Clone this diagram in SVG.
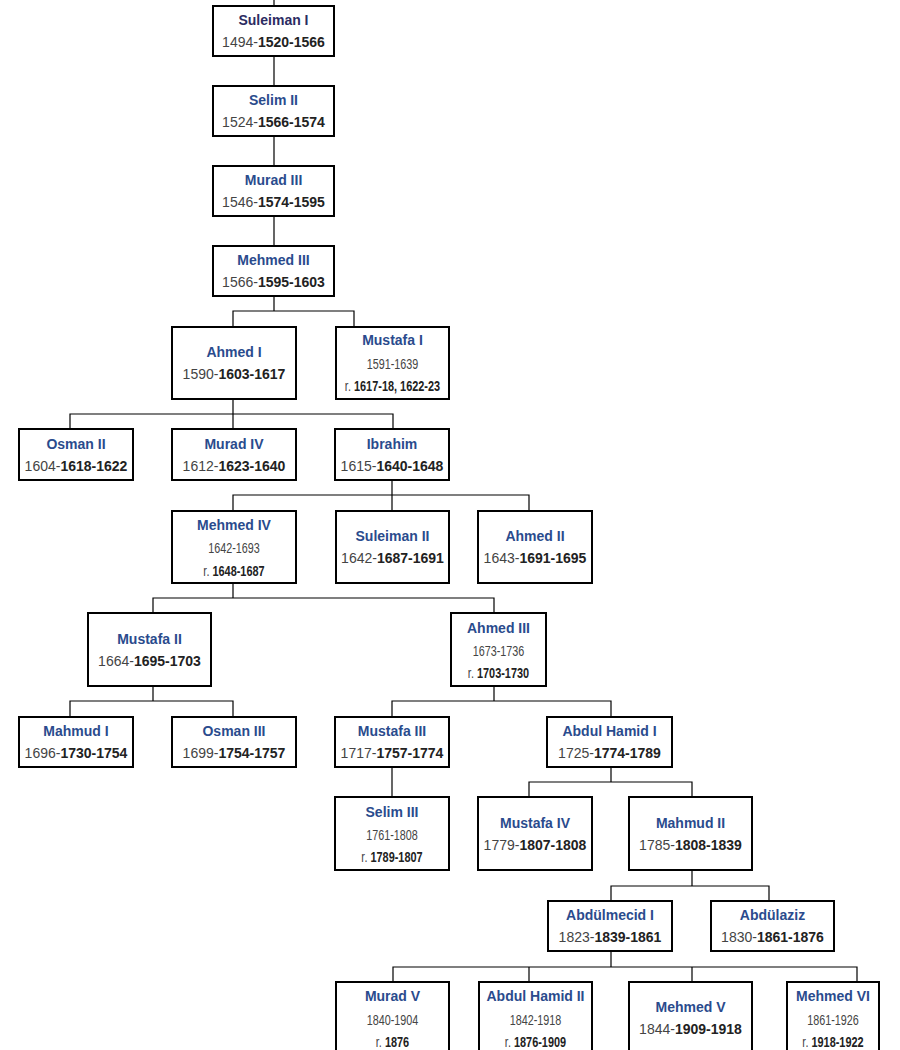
<svg xmlns="http://www.w3.org/2000/svg" width="900" height="1050" viewBox="0 0 900 1050">
<style>
.box{fill:#fff;stroke:#000;stroke-width:2}
.c{fill:none;stroke:#000;stroke-width:1.2}
text{font-family:"Liberation Sans",Arial,sans-serif;text-anchor:middle}
.n{font-size:14px;font-weight:bold;fill:#2a4b8d}
.n0{font-size:14px;font-weight:bold;fill:#2b2b62}
.d{font-size:14px;fill:#444}
.s{font-size:14px;fill:#444}
.b{font-weight:bold;fill:#222}
</style>
<rect width="900" height="1050" fill="#fff"/>
<g id="connectors">
<path class="c" d="M274,0V6 M274,56V86 M274,136V166 M274,216V246"/>
<path class="c" d="M274,296V311 M233,327V311H354V327"/>
<path class="c" d="M233,399V414 M70,429V414H393V429 M233,414V429"/>
<path class="c" d="M392,480V495 M233,511V495H529V511 M392,495V511"/>
<path class="c" d="M233,583V598 M153,613V598H494V613"/>
<path class="c" d="M153,686V701 M70,717V701H233V717"/>
<path class="c" d="M494,686V701 M392,717V701H611V717"/>
<path class="c" d="M392,767V797"/>
<path class="c" d="M611,767V782 M529,797V782H692V797"/>
<path class="c" d="M692,870V886 M611,901V886H769V901"/>
<path class="c" d="M611,951V967 M393,982V967H857V982 M529,967V982 M692,967V982"/>
</g>
<g id="suleiman1"><rect class="box" x="213" y="6" width="121" height="50"/><text class="n0" x="273.5" y="25">Suleiman I</text><text class="d" x="273.5" y="47">1494-<tspan class="b">1520-1566</tspan></text></g>
<g id="selim2"><rect class="box" x="213" y="86" width="121" height="50"/><text class="n" x="273.5" y="105">Selim II</text><text class="d" x="273.5" y="127">1524-<tspan class="b">1566-1574</tspan></text></g>
<g id="murad3"><rect class="box" x="213" y="166" width="121" height="50"/><text class="n" x="273.5" y="185">Murad III</text><text class="d" x="273.5" y="207">1546-<tspan class="b">1574-1595</tspan></text></g>
<g id="mehmed3"><rect class="box" x="213" y="246" width="121" height="50"/><text class="n" x="273.5" y="265">Mehmed III</text><text class="d" x="273.5" y="287">1566-<tspan class="b">1595-1603</tspan></text></g>
<g id="ahmed1"><rect class="box" x="172" y="327" width="124" height="72"/><text class="n" x="234" y="357">Ahmed I</text><text class="d" x="234" y="379">1590-<tspan class="b">1603-1617</tspan></text></g>
<g id="mustafa1"><rect class="box" x="336" y="327" width="113" height="72"/><text class="n" x="392.5" y="345">Mustafa I</text><text class="s" transform="translate(392.5,369) scale(0.77,1)">1591-1639</text><text class="s" transform="translate(392.5,391) scale(0.78,1)">r. <tspan class="b">1617-18, 1622-23</tspan></text></g>
<g id="osman2"><rect class="box" x="19" y="429" width="114" height="51"/><text class="n" x="76" y="449">Osman II</text><text class="d" x="76" y="471">1604-<tspan class="b">1618-1622</tspan></text></g>
<g id="murad4"><rect class="box" x="172" y="429" width="124" height="51"/><text class="n" x="234" y="449">Murad IV</text><text class="d" x="234" y="471">1612-<tspan class="b">1623-1640</tspan></text></g>
<g id="ibrahim"><rect class="box" x="335" y="429" width="114" height="51"/><text class="n" x="392" y="449">Ibrahim</text><text class="d" x="392" y="471">1615-<tspan class="b">1640-1648</tspan></text></g>
<g id="mehmed4"><rect class="box" x="172" y="511" width="124" height="72"/><text class="n" x="234" y="530">Mehmed IV</text><text class="s" transform="translate(234,553) scale(0.77,1)">1642-1693</text><text class="s" transform="translate(234,576) scale(0.78,1)">r. <tspan class="b">1648-1687</tspan></text></g>
<g id="suleiman2"><rect class="box" x="336" y="511" width="113" height="72"/><text class="n" x="392.5" y="541">Suleiman II</text><text class="d" x="392.5" y="563">1642-<tspan class="b">1687-1691</tspan></text></g>
<g id="ahmed2"><rect class="box" x="478" y="511" width="114" height="72"/><text class="n" x="535" y="541">Ahmed II</text><text class="d" x="535" y="563">1643-<tspan class="b">1691-1695</tspan></text></g>
<g id="mustafa2"><rect class="box" x="88" y="613" width="123" height="73"/><text class="n" x="149.5" y="644">Mustafa II</text><text class="d" x="149.5" y="666">1664-<tspan class="b">1695-1703</tspan></text></g>
<g id="ahmed3"><rect class="box" x="451" y="613" width="95" height="73"/><text class="n" x="498.5" y="633">Ahmed III</text><text class="s" transform="translate(498.5,656) scale(0.77,1)">1673-1736</text><text class="s" transform="translate(498.5,678) scale(0.78,1)">r. <tspan class="b">1703-1730</tspan></text></g>
<g id="mahmud1"><rect class="box" x="19" y="717" width="114" height="50"/><text class="n" x="76" y="736">Mahmud I</text><text class="d" x="76" y="758">1696-<tspan class="b">1730-1754</tspan></text></g>
<g id="osman3"><rect class="box" x="172" y="717" width="124" height="50"/><text class="n" x="234" y="736">Osman III</text><text class="d" x="234" y="758">1699-<tspan class="b">1754-1757</tspan></text></g>
<g id="mustafa3"><rect class="box" x="335" y="717" width="114" height="50"/><text class="n" x="392" y="736">Mustafa III</text><text class="d" x="392" y="758">1717-<tspan class="b">1757-1774</tspan></text></g>
<g id="abdulhamid1"><rect class="box" x="547" y="717" width="125" height="50"/><text class="n" x="609.5" y="736">Abdul Hamid I</text><text class="d" x="609.5" y="758">1725-<tspan class="b">1774-1789</tspan></text></g>
<g id="selim3"><rect class="box" x="335" y="797" width="114" height="73"/><text class="n" x="392" y="817">Selim III</text><text class="s" transform="translate(392,840) scale(0.77,1)">1761-1808</text><text class="s" transform="translate(392,862) scale(0.78,1)">r. <tspan class="b">1789-1807</tspan></text></g>
<g id="mustafa4"><rect class="box" x="478" y="797" width="114" height="73"/><text class="n" x="535" y="828">Mustafa IV</text><text class="d" x="535" y="850">1779-<tspan class="b">1807-1808</tspan></text></g>
<g id="mahmud2"><rect class="box" x="629" y="797" width="123" height="73"/><text class="n" x="690.5" y="828">Mahmud II</text><text class="d" x="690.5" y="850">1785-<tspan class="b">1808-1839</tspan></text></g>
<g id="abdulmecid1"><rect class="box" x="548" y="901" width="124" height="50"/><text class="n" x="610" y="920">Abdülmecid I</text><text class="d" x="610" y="942">1823-<tspan class="b">1839-1861</tspan></text></g>
<g id="abdulaziz"><rect class="box" x="711" y="901" width="123" height="50"/><text class="n" x="772.5" y="920">Abdülaziz</text><text class="d" x="772.5" y="942">1830-<tspan class="b">1861-1876</tspan></text></g>
<g id="murad5"><rect class="box" x="336" y="982" width="113" height="72"/><text class="n" x="392.5" y="1001">Murad V</text><text class="s" transform="translate(392.5,1025) scale(0.77,1)">1840-1904</text><text class="s" transform="translate(392.5,1047) scale(0.78,1)">r. <tspan class="b">1876</tspan></text></g>
<g id="abdulhamid2"><rect class="box" x="479" y="982" width="113" height="72"/><text class="n" x="535.5" y="1001">Abdul Hamid II</text><text class="s" transform="translate(535.5,1025) scale(0.77,1)">1842-1918</text><text class="s" transform="translate(535.5,1047) scale(0.78,1)">r. <tspan class="b">1876-1909</tspan></text></g>
<g id="mehmed5"><rect class="box" x="629" y="982" width="123" height="72"/><text class="n" x="690.5" y="1012">Mehmed V</text><text class="d" x="690.5" y="1034">1844-<tspan class="b">1909-1918</tspan></text></g>
<g id="mehmed6"><rect class="box" x="787" y="982" width="92" height="72"/><text class="n" x="833" y="1001">Mehmed VI</text><text class="s" transform="translate(833,1025) scale(0.77,1)">1861-1926</text><text class="s" transform="translate(833,1047) scale(0.78,1)">r. <tspan class="b">1918-1922</tspan></text></g>
</svg>
